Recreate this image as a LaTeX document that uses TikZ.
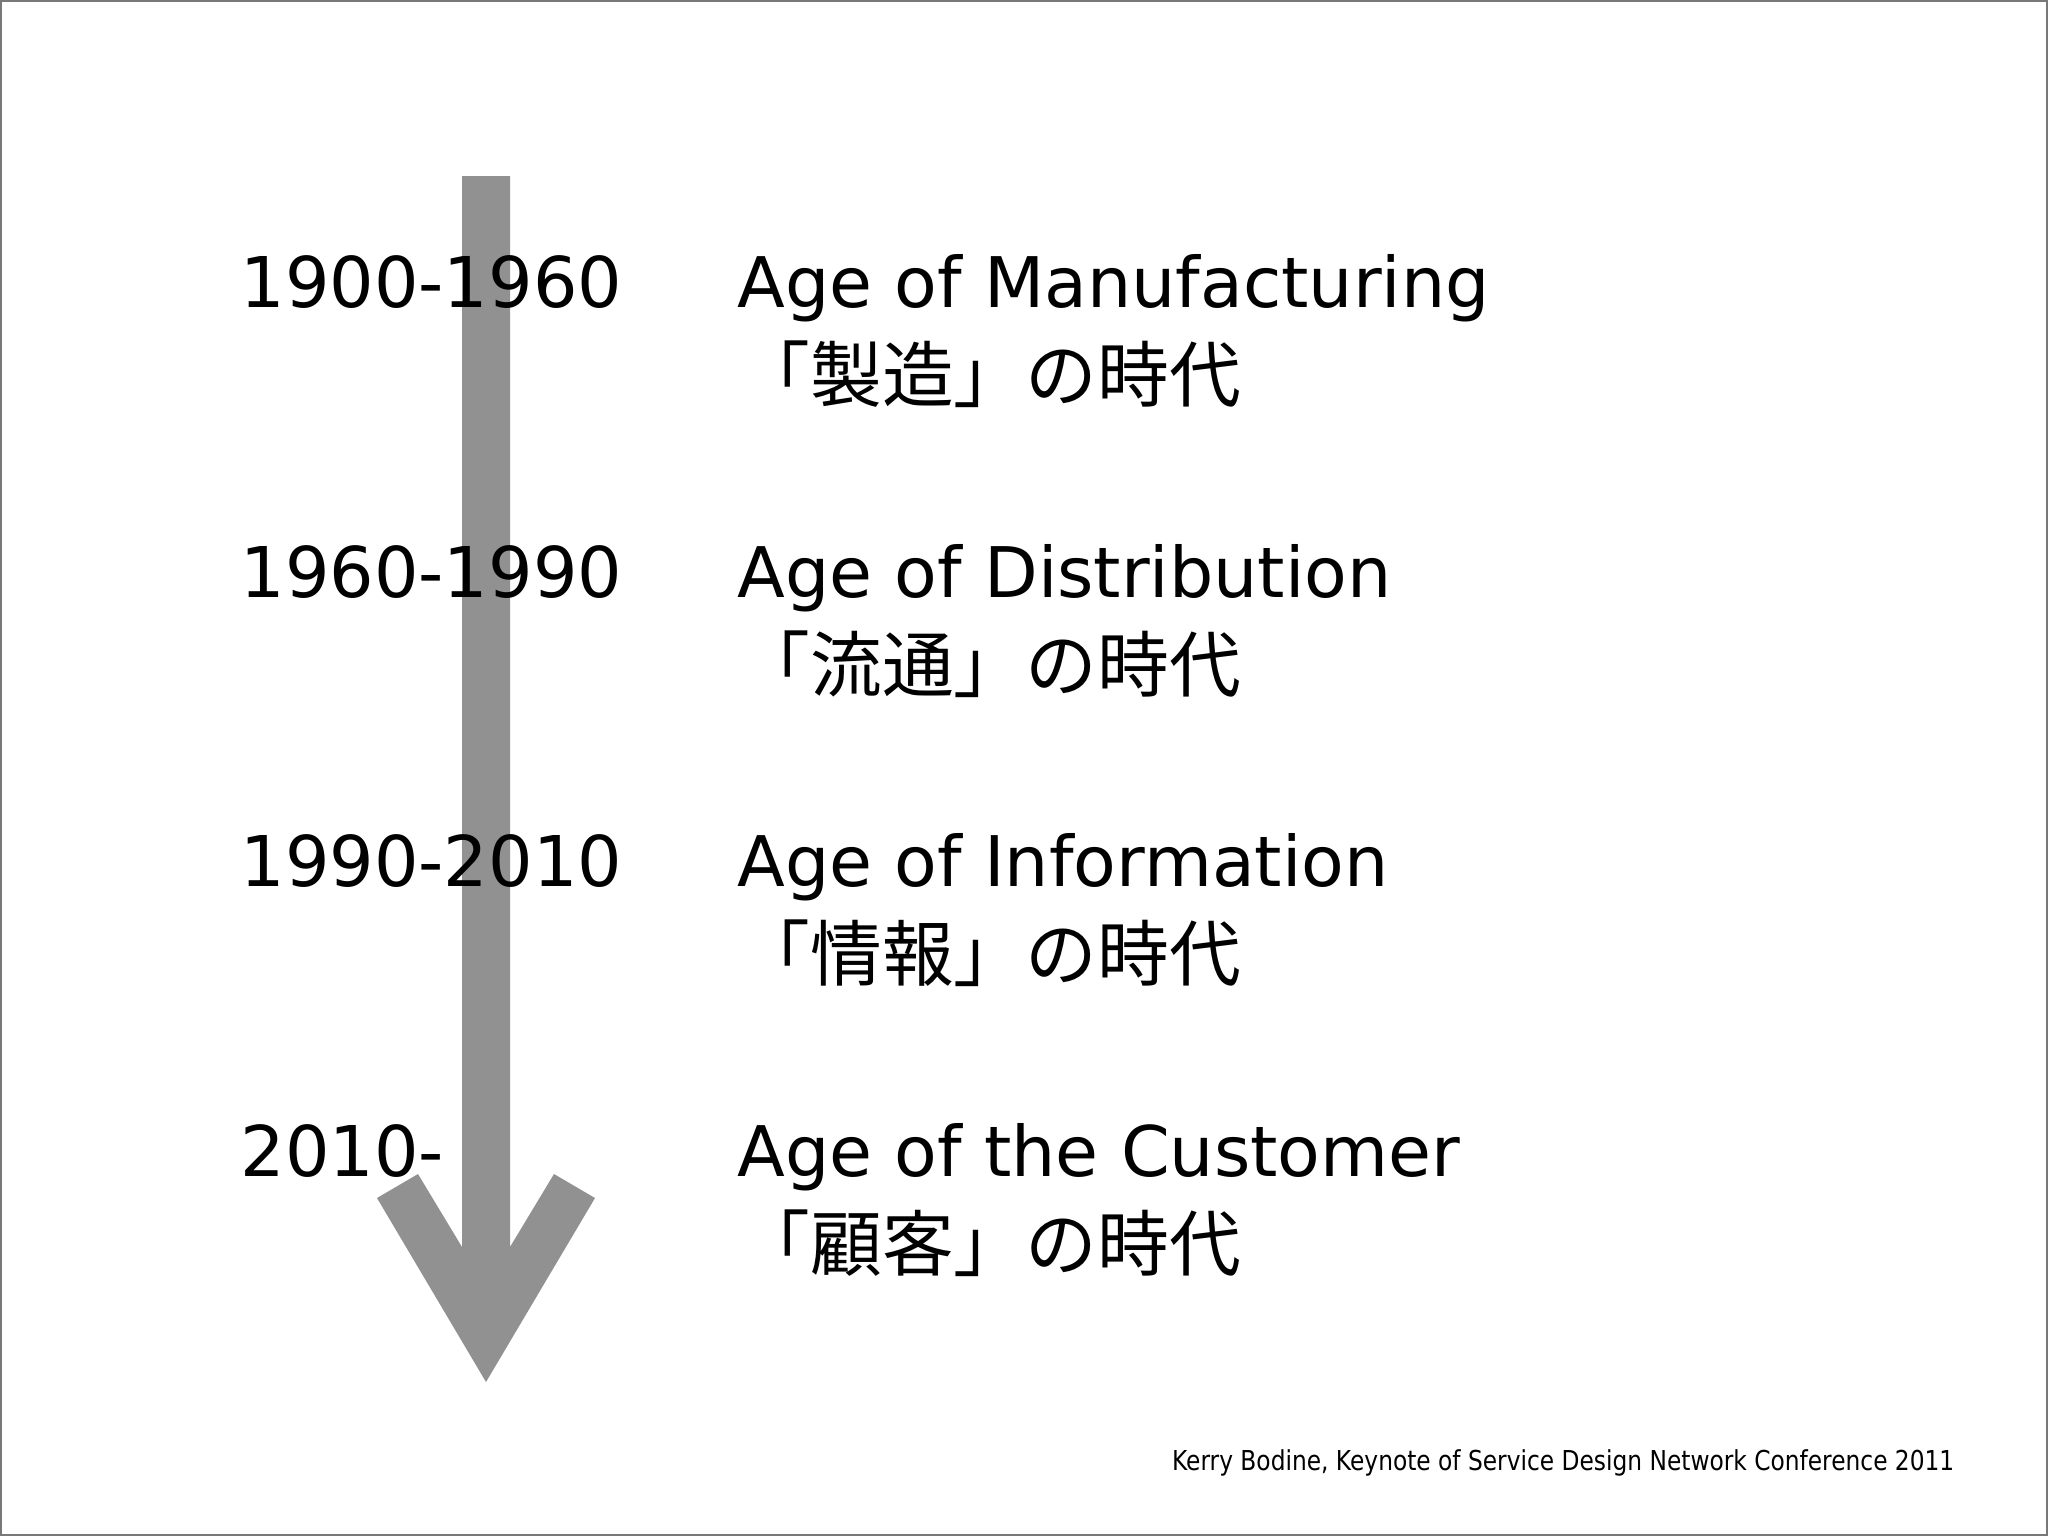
\documentclass[tikz,border=0pt]{standalone}
\usepackage{fontspec}
\setmainfont{DejaVu Sans}
\newfontfamily\jpfont{Noto Sans CJK JP}
\newfontfamily\notefont{DejaVu Sans}[FakeStretch=0.85]
\definecolor{arrowgray}{RGB}{145,145,145}
\definecolor{framegray}{RGB}{120,120,120}
\tikzset{
  yearlabel/.style={anchor=base west, inner sep=0pt, font=\fontsize{19.9}{24}\selectfont},
  agelabel/.style={anchor=base west, inner sep=0pt, font=\fontsize{19.85}{24}\selectfont},
  jplabel/.style={anchor=base west, inner sep=0pt, font=\jpfont\fontsize{20.4}{24}\selectfont},
}

\begin{document}
\begin{tikzpicture}[x=0.01cm, y=-0.01cm]
    \useasboundingbox (0,0) rectangle (2048,1536);
    \draw[framegray, line width=0.02cm] (1,1) rectangle (2047,1535);

    % Time arrow
    \fill[arrowgray] (462,176) -- (510,176) -- (510,1247) -- (554,1174) -- (595,1198)
        -- (486,1382) -- (377,1198) -- (418,1174) -- (462,1247) -- cycle;

    % Periods
    \node[yearlabel] (y1) at (240,307) {1900-1960};
    \node[agelabel] (e1) at (737,307) {Age of Manufacturing};
    \node[jplabel] (j1) at (738,401) {「製造」の時代};

    \node[yearlabel] (y2) at (240,597) {1960-1990};
    \node[agelabel] (e2) at (737,597) {Age of Distribution};
    \node[jplabel] (j2) at (738,691) {「流通」の時代};

    \node[yearlabel] (y3) at (240,886) {1990-2010};
    \node[agelabel] (e3) at (737,886) {Age of Information};
    \node[jplabel] (j3) at (738,980) {「情報」の時代};

    \node[yearlabel] (y4) at (240,1176) {2010-};
    \node[agelabel] (e4) at (737,1176) {Age of the Customer};
    \node[jplabel] (j4) at (738,1270) {「顧客」の時代};

    % Source
    \node[anchor=base east, inner sep=0pt, font=\notefont\fontsize{7.8}{9}\selectfont] (src) at (1955,1470)
        {Kerry Bodine, Keynote of Service Design Network Conference 2011};
\end{tikzpicture}
\end{document}
